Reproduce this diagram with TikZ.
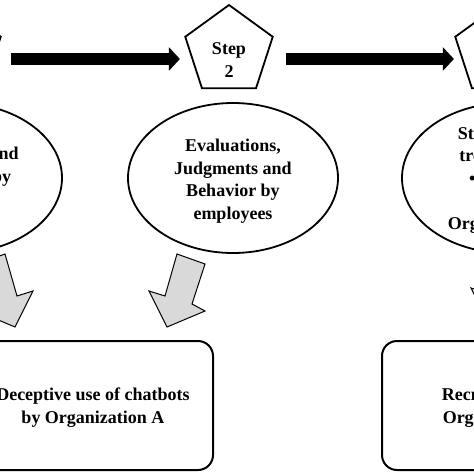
\documentclass[tikz,border=0pt]{standalone}
\usepackage{fontspec}
\setmainfont{Liberation Serif}
\usetikzlibrary{shapes.geometric,arrows.meta}

\tikzset{
  lbl/.style={font=\bfseries\fontsize{18}{22.5}\selectfont, align=center, inner sep=0pt},
  stepbox/.style={regular polygon, regular polygon sides=5, draw, line width=1.8pt,
    minimum size=92pt, inner sep=0pt},
  phase/.style={ellipse, draw, line width=1.8pt, minimum width=210pt,
    minimum height=150pt, inner sep=0pt},
  outcome/.style={rectangle, rounded corners=15pt, draw, line width=2pt,
    minimum width=240pt, minimum height=129pt},
  bigarrow/.style={line width=12pt, -{Triangle[length=11pt,width=23pt]}},
  grayarrow/.pic={
    \draw[fill=gray!30, line width=1pt, line join=miter]
      (10,-73) -- (38,-63) -- (25,-23) -- (38,-16) -- (0,0)
      -- (-18,-36) -- (-2,-31) -- cycle;
  }
}

\begin{document}
\begin{tikzpicture}[x=1pt, y=-1pt]
  \useasboundingbox (0,0) rectangle (474,474);
  \clip (0,0) rectangle (474,474);

  % steps
  \node[stepbox] (p1) at (-43,51) {};
  \node[stepbox] (p2) at (229,51) {};
  \node[stepbox] (p3) at (499,51) {};
  \node[lbl] (s2) at (229,60) {Step\\2};

  \draw[bigarrow] ([xshift=14pt,yshift=-8pt]p1.east) -- ([xshift=-9pt,yshift=-8pt]p2.west);
  \draw[bigarrow] ([xshift=17pt,yshift=-8pt]p2.east) -- ([xshift=-5pt,yshift=-8pt]p3.west);

  % what happens in each step
  \node[phase] (e1) at (-43,178) {};
  \node[phase] (e2) at (233,178) {};
  \node[phase] (e3) at (507,178) {};
  \node[lbl] (t1) at ([xshift=-4pt]e1.center) {Introduction and\\Deployment by\\managers};
  \node[lbl] (t2) at ([yshift=-3pt]e2.center) {Evaluations,\\Judgments and\\Behavior by\\employees};
  \node[lbl] (t3) at ([yshift=-2pt]e3.center) {Strategic use\\treatment of\\\textbullet{} chatbots\\by\\Organization B};

  % outcomes
  \node[outcome] (boxA) at (93,405.5) {};
  \node[outcome] (boxB) at (502,405.5) {};
  \node[lbl] (uA) at ([yshift=-2pt]boxA.center) {Deceptive use of chatbots\\by Organization A};
  \node[lbl] (uB) at ([yshift=-2pt]boxB.center) {Recruitment by\\Organization B};

  \pic[xscale=-1] at ([xshift=-78pt,yshift=13pt]boxA.north) {grayarrow};
  \pic at ([xshift=74pt,yshift=13pt]boxA.north) {grayarrow};
  \pic at ([xshift=-13pt,yshift=16pt]boxB.north) {grayarrow};
\end{tikzpicture}
\end{document}
